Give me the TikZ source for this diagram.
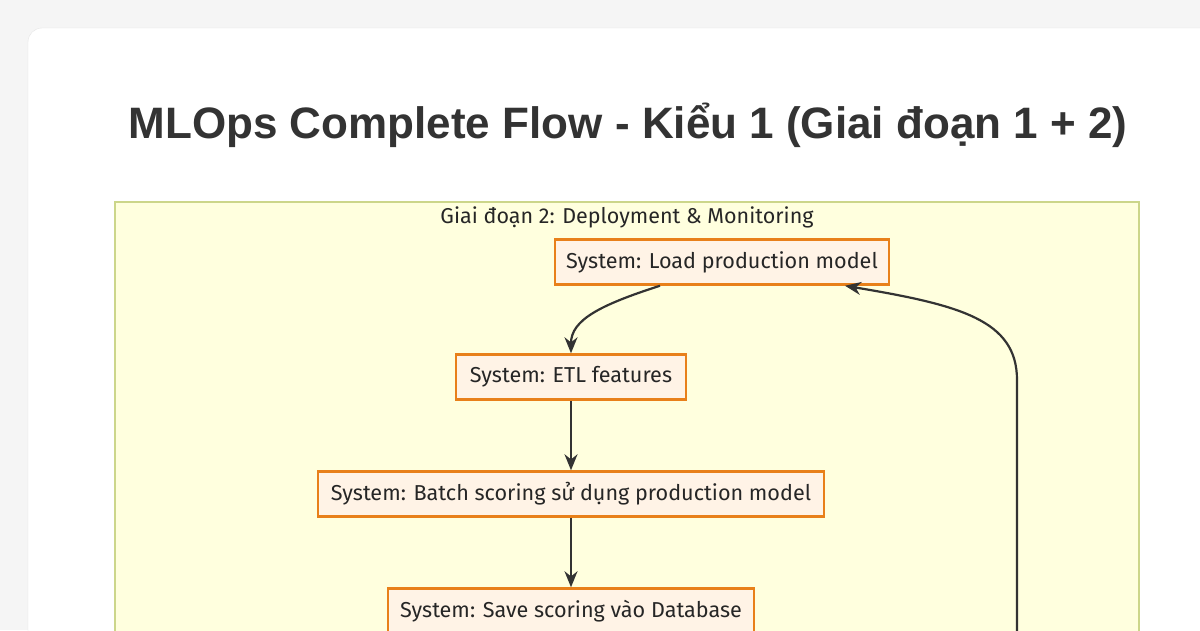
\documentclass[tikz,border=0pt]{standalone}
\usepackage{fontspec}
\setmainfont{Fira Sans}
\newfontfamily\titlefont{Liberation Sans}
\usetikzlibrary{arrows.meta}
\definecolor{nodefill}{HTML}{FFF3E6}
\definecolor{nodeline}{HTML}{E8801A}
\definecolor{clusterfill}{HTML}{FFFFDE}
\definecolor{clusterline}{HTML}{CCD68A}
\definecolor{edgecol}{HTML}{333333}
\begin{document}
\begin{tikzpicture}[x=1pt,y=-1pt,
  box/.style={draw=nodeline,fill=nodefill,line width=2.5pt,inner sep=0pt,minimum height=45pt,font=\fontsize{21.6}{24}\selectfont,text=black!85},
  edge/.style={draw=edgecol,line width=2.2pt,-{Stealth[length=16pt,width=13pt]}}]
\useasboundingbox (0,0) rectangle (1200,630);
\fill[black!4] (0,0) rectangle (1200,630);
\begin{scope}
\clip (0,0) rectangle (1200,630);
\draw[black!10,fill=white,rounded corners=14pt] (28,28) rectangle (1230,700);
\draw[clusterline,fill=clusterfill,line width=1.5pt] (115,202) rectangle (1139,700);
\end{scope}
\node[font=\titlefont\bfseries\fontsize{44}{50}\selectfont,text=black!80] (title) at (628,125) {MLOps Complete Flow - Kiểu 1 (Giai đoạn 1 + 2)};
\node[font=\fontsize{21.5}{24}\selectfont,text=black!85] (cl) at (627,217) {Giai đoạn 2: Deployment \& Monitoring};
\node[box,minimum width=334pt] (load) at (722,262) {System: Load production model};
\node[box,minimum width=230pt] (etl) at (571,377) {System: ETL features};
\node[box,minimum width=506pt] (batch) at (571,494) {System: Batch scoring sử dụng production model};
\node[box,minimum width=366pt] (save) at (571,611) {System: Save scoring vào Database};
\coordinate (ret) at (1017,640);
\draw[edge] (load.south -| 660,0) .. controls (600,305) and (571,320) .. (etl.north);
\draw[edge] (etl) -- (batch);
\draw[edge] (batch) -- (save);
\draw[edge] (ret) -- (1017,380) .. controls (1017,320) and (960,305) .. (load.south -| 845,0);
\end{tikzpicture}
\end{document}
